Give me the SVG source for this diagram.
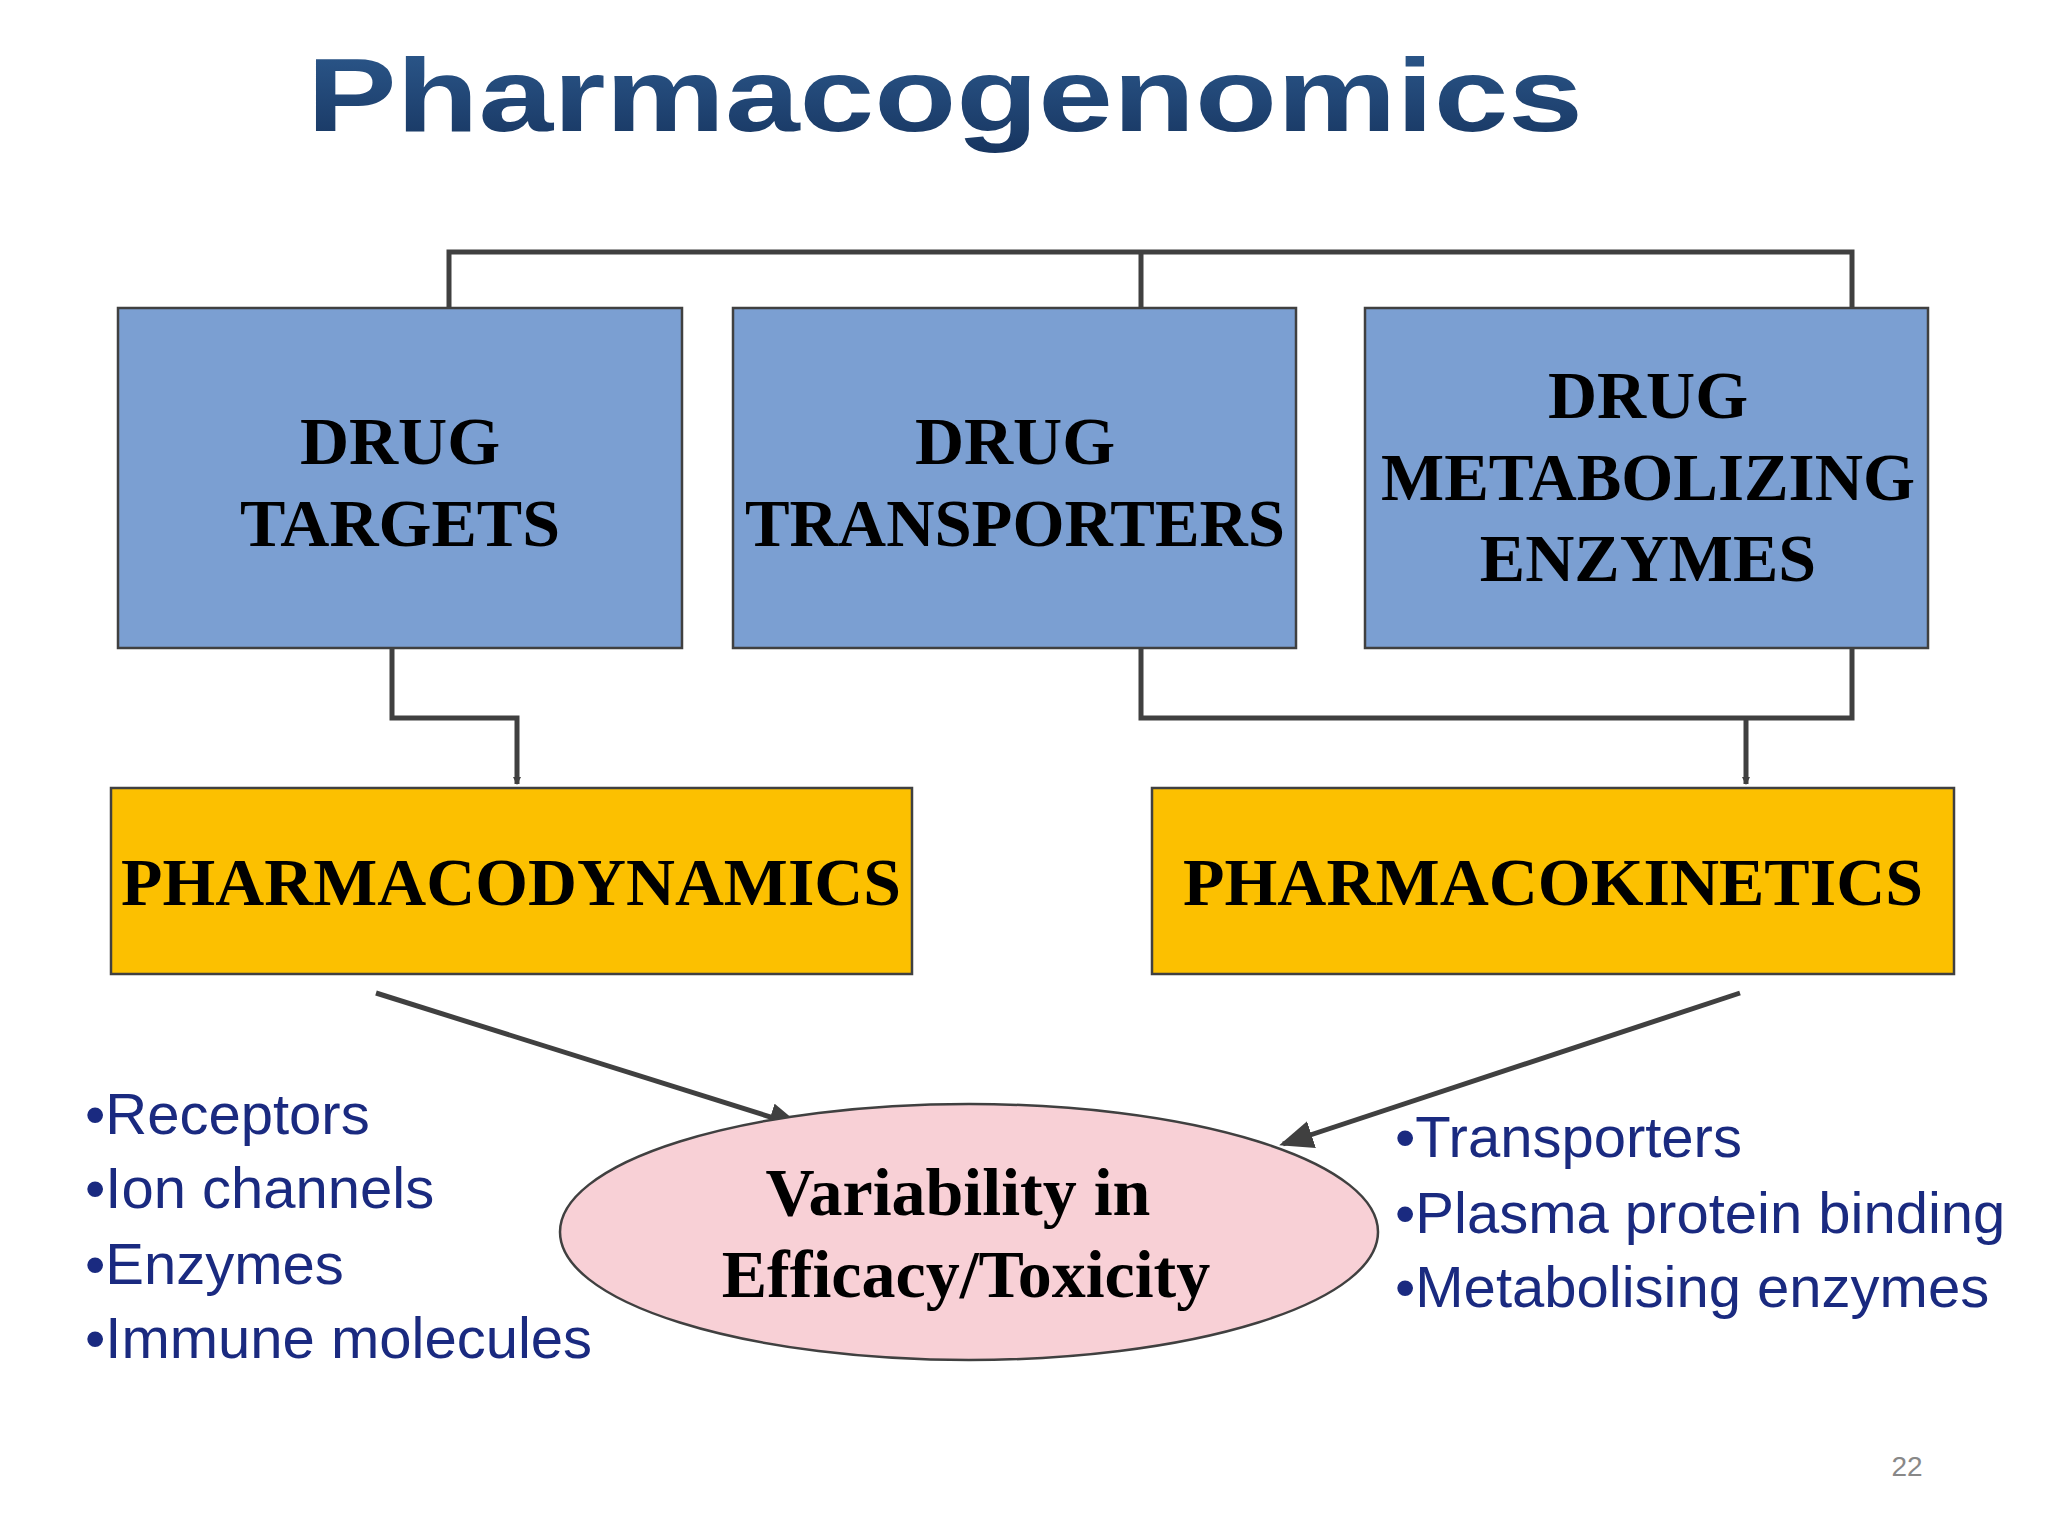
<svg xmlns="http://www.w3.org/2000/svg" width="2048" height="1536" viewBox="0 0 2048 1536">
<defs>
<linearGradient id="tg" x1="0" y1="0" x2="0" y2="1"><stop offset="0" stop-color="#2d5a8e"/><stop offset="1" stop-color="#173560"/></linearGradient>
<marker id="sa" markerWidth="8" markerHeight="8" refX="7" refY="4" orient="auto" markerUnits="userSpaceOnUse" viewBox="0 0 8 8"><path d="M0,0 L8,4 L0,8 z" fill="#404040"/></marker>
<marker id="ba" markerWidth="34" markerHeight="28" refX="30" refY="14" orient="auto" markerUnits="userSpaceOnUse"><path d="M0,0 L34,14 L0,28 z" fill="#404040"/></marker>
</defs>
<style>
.blue{fill:#7b9fd2;stroke:#404040;stroke-width:2.5}
.yel{fill:#fcc000;stroke:#404040;stroke-width:2.5}
.bt{font-family:"Liberation Serif",serif;font-weight:bold;font-size:68px;fill:#000;text-anchor:middle}
.bl{font-family:"Liberation Sans",sans-serif;font-size:58px;fill:#1a2a80}
.ln{fill:none;stroke:#404040;stroke-width:5}
</style>
<rect width="2048" height="1536" fill="#fff"/>
<text x="307" y="131" font-family="Liberation Sans,sans-serif" font-weight="bold" font-size="104" fill="url(#tg)" textLength="1276" lengthAdjust="spacingAndGlyphs">Pharmacogenomics</text>
<g id="connectors">
<path class="ln" d="M449,308 V252 H1852 V308 M1141,252 V308"/>
<path class="ln" d="M392,648 V718 H517 V784" stroke-width="4" marker-end="url(#sa)"/>
<path class="ln" d="M1141,648 V718 H1852 V648 M1746,718 V784" marker-end="url(#sa)"/>
<line class="ln" x1="376" y1="993" x2="799" y2="1126" stroke-width="10" marker-end="url(#ba)"/>
<line class="ln" x1="1740" y1="993" x2="1283" y2="1144" stroke-width="10" marker-end="url(#ba)"/>
</g>
<g id="targets"><rect class="blue" x="118" y="308" width="564" height="340"/><text class="bt" x="400" y="464">DRUG</text><text class="bt" x="400" y="546">TARGETS</text></g>
<g id="transporters"><rect class="blue" x="733" y="308" width="563" height="340"/><text class="bt" x="1015" y="464">DRUG</text><text class="bt" x="1015" y="546" textLength="540" lengthAdjust="spacingAndGlyphs">TRANSPORTERS</text></g>
<g id="enzymes"><rect class="blue" x="1365" y="308" width="563" height="340" stroke-width="3" stroke="#111"/><text class="bt" x="1648" y="418">DRUG</text><text class="bt" x="1648" y="500" textLength="534" lengthAdjust="spacingAndGlyphs">METABOLIZING</text><text class="bt" x="1648" y="581">ENZYMES</text></g>
<g id="pd"><rect class="yel" x="111" y="788" width="801" height="186"/><text class="bt" x="511" y="905" textLength="780" lengthAdjust="spacingAndGlyphs">PHARMACODYNAMICS</text></g>
<g id="pk"><rect class="yel" x="1152" y="788" width="802" height="186"/><text class="bt" x="1553" y="905" textLength="740" lengthAdjust="spacingAndGlyphs">PHARMACOKINETICS</text></g>
<g id="variability"><ellipse cx="969" cy="1232" rx="409" ry="128" fill="#f8d0d6" stroke="#404040" stroke-width="2.5"/><text class="bt" x="958" y="1215">Variability in</text><text class="bt" x="966" y="1297">Efficacy/Toxicity</text></g>
<g id="left-list" class="bl"><text class="bl" x="85" y="1134">•Receptors</text><text class="bl" x="85" y="1208">•Ion channels</text><text class="bl" x="85" y="1284">•Enzymes</text><text class="bl" x="85" y="1358">•Immune molecules</text></g>
<g id="right-list"><text class="bl" x="1395" y="1157">•Transporters</text><text class="bl" x="1395" y="1233">•Plasma protein binding</text><text class="bl" x="1395" y="1307">•Metabolising enzymes</text></g>
<text x="1907" y="1476" font-family="Liberation Sans,sans-serif" font-size="28" fill="#888" text-anchor="middle">22</text>
</svg>
